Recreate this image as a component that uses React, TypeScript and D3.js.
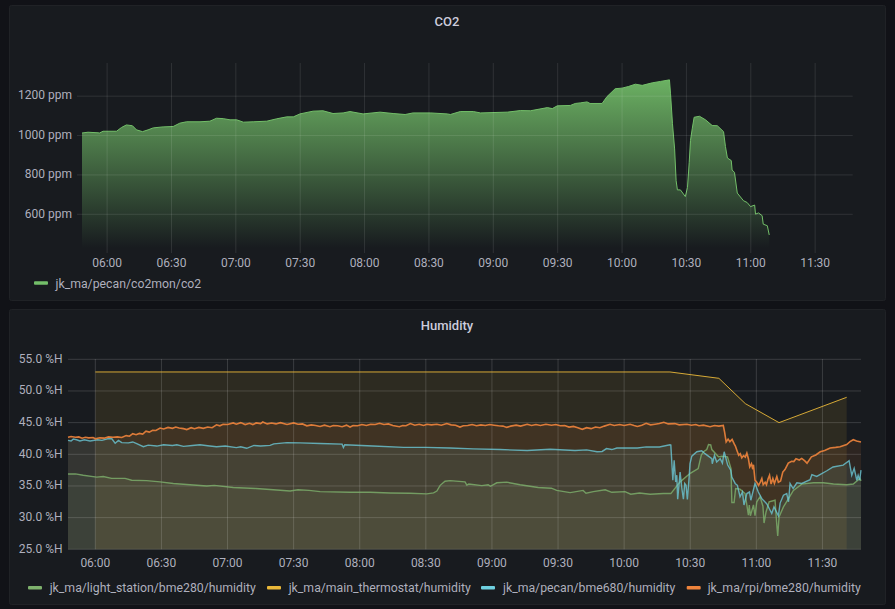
import React from "react";
import * as d3 from "d3";

// Minutes after 06:00
const xTickLabels = ["06:00","06:30","07:00","07:30","08:00","08:30","09:00","09:30","10:00","10:30","11:00","11:30"];
const xTickMinutes = [0,30,60,90,120,150,180,210,240,270,300,330];

const co2Ticks = [600,800,1000,1200];
const co2Samples: [number, number][] = [
[-11.7,1013],[-8.9,1017],[-4.2,1014],[-3.5,1013],[-1.9,1022],[4.4,1022],[6.7,1041],[9,1054],[11.8,1050],[13.7,1029],[16.5,1020],[19.1,1029],[21.5,1039],[26.1,1044],[30.8,1046],[33.9,1063],[37,1070],[43.3,1070],[47.9,1073],[51,1088],[54.1,1086],[57.3,1080],[60.4,1080],[63.5,1068],[68.1,1070],[74.4,1073],[79,1085],[83.7,1095],[86.8,1095],[89.9,1110],[96,1124],[100.6,1126],[105.3,1112],[110,1115],[113.2,1122],[119.3,1110],[127.2,1119],[133.3,1112],[138.9,1107],[142.6,1115],[150.6,1115],[158.5,1110],[160,1107],[164.6,1122],[170.7,1122],[174,1115],[186.5,1119],[192.6,1127],[197.3,1126],[205.2,1142],[207.5,1137],[209.8,1151],[215.9,1153],[218.2,1163],[220.5,1166],[223.7,1171],[225.1,1163],[230.7,1163],[233,1198],[236.8,1238],[240,1241],[242.9,1249],[246.2,1261],[249.4,1255],[254.1,1268],[257.9,1275],[262.1,1283],[262.6,1212],[263.5,1060],[264.5,932],[265.2,771],[265.8,724],[267.2,724],[269.5,690],[270.5,737],[271.3,864],[271.9,975],[272.7,1034],[273.6,1093],[276.1,1098],[278.9,1080],[282,1051],[284.4,1050],[287.3,1020],[288.2,944],[289.1,886],[290.9,873],[291.3,825],[292.4,813],[293.7,708],[296.6,669],[298.3,660],[299.9,639],[301.8,647],[302.2,601],[303.6,607],[305.3,593],[305.8,550],[307.7,542],[308.6,495]];

const humidityTicks = [25,30,35,40,45,50,55];

const greenSamples: [number, number][] = [
[-12.4,36.9],[-9,36.9],[-5.5,36.7],[0.6,36.4],[3.6,36.5],[7.4,36.2],[13.5,36.2],[16.5,35.9],[23.3,35.85],[29.4,35.65],[35.4,35.4],[43,35.2],[50.6,35],[54,35.1],[62.6,34.75],[73,34.6],[80.8,34.4],[88.4,34.2],[92,34.4],[97,34.3],[102,34.1],[115.6,34],[124.7,34],[133.8,33.9],[142.8,33.85],[150.4,33.75],[153.5,33.9],[155,34.2],[156.5,35.1],[158.7,35.75],[161,35.85],[167.8,35.65],[168.6,35.15],[169.5,35.3],[175.4,35.05],[178.3,35.2],[179.3,34.95],[182.2,35.5],[186.7,35.6],[192.8,35.2],[201,34.75],[207,34.65],[209.4,34.3],[215.5,33.95],[221.4,34.3],[222.7,33.85],[226,34.1],[231.4,34.4],[234.4,34],[240.4,34.1],[243,33.7],[247,33.9],[251.8,33.7],[257.8,33.8],[261.2,33.8],[265.4,35.65],[270,37],[273.6,37.75],[275,39.85],[276,40.4],[277.5,40.75],[278.3,41.55],[279.3,41.5],[279.8,40.75],[282.8,39.6],[284.3,39.7],[286.9,39.6],[288.5,37.75],[288.9,32.4],[289.9,32.4],[290.6,34.6],[292.6,34.5],[294.9,33.8],[296.4,30.4],[296.8,32],[297.3,30.3],[298.7,32],[299.4,30.3],[300.2,32.5],[301.7,33.3],[303,31.8],[303.5,29.15],[304.4,30.9],[305.8,32.5],[308.5,32.75],[309.3,28.8],[309.7,27.1],[310.3,30.1],[312.3,31.7],[314.6,33],[316.8,34.3],[320.6,35.3],[325.9,35.5],[330.4,35.5],[335,35.3],[341,35.2],[344,35.3],[347,36.2],[347.5,35.8]];

const yellowSamples: [number, number][] = [[0,53],[260.8,53],[283,52],[295,48],[310.3,45],[341,49]];

const cyanSamples: [number, number][] = [
[-12.4,42.2],[-11,42.1],[-10,42.4],[-8.5,42.3],[-7,42.1],[-5,42.3],[-2.4,42.1],[1,42.3],[3,42.2],[6,42.5],[7.5,42.45],[9,41.75],[10.5,42.2],[12,41.85],[15,41.8],[17,41.95],[18.8,41.7],[21.8,41.2],[24,41.45],[27.9,41.3],[31,41.5],[35,41.4],[37,41.5],[40,41.25],[44,41.4],[47.5,41.5],[51,41.35],[55,41.2],[59,41.3],[64,41.05],[66,41.2],[68.7,40.95],[72,41.4],[75,41.3],[79.3,41.4],[81,41.65],[87,41.85],[93,41.8],[102,41.7],[112,41.6],[112.6,41.07],[113.2,41.5],[126,41.3],[140,41.1],[150,41.1],[161,41],[171.6,40.85],[183.7,40.75],[196,40.6],[206.4,40.8],[217.7,40.6],[223,40.7],[227.7,40.4],[230,40.45],[232,40.9],[234.4,40.75],[236.7,41],[242.7,41],[246,41],[250,41.17],[256,41.15],[260.8,41.5],[261.2,41.45],[262.1,35.9],[262.7,39.07],[263.4,35.64],[263.9,36.7],[264.3,32.9],[265.4,37.2],[266.2,34.6],[266.9,32.9],[267.5,35.4],[268.1,35.1],[268.7,32.86],[269.5,36.4],[269.9,38.55],[270.7,39.7],[273,40.4],[275.2,40.55],[276.7,40.1],[279.8,39.3],[280,38.5],[281,39.85],[282,38.8],[283.6,39.3],[284.6,38.6],[285.4,40.4],[286.1,39.5],[287,38.3],[288.4,37.5],[288.9,36.4],[290.4,35.4],[291.4,35.1],[292.6,33.3],[293.7,34.05],[294.4,32],[295.7,33.8],[296.9,34.05],[297.5,32.75],[299.4,35.4],[300.9,34.05],[302.5,33],[304.7,32.2],[305.9,31.4],[307,30.65],[308,31.7],[310,30.3],[310.8,32.3],[312.3,33.55],[313.8,33.8],[314.6,32.5],[315.3,35.4],[316.7,34.6],[318.4,35.5],[320.6,35.4],[324.4,36],[325.2,36.8],[327.4,36.5],[332,37.4],[334.8,38],[339.4,38.3],[342.1,39],[343.3,36.7],[344.4,37.8],[345.6,35.9],[346.2,36.7],[346.9,35.9],[347.5,37.5]];

const orangeSamples: [number, number][] = [
[-12.4,42.7],[-11,42.8],[-9,42.7],[-7.5,42.75],[-6,42.55],[-4.5,42.7],[-3,42.6],[-1,42.65],[0,42.45],[2,42.6],[4,42.55],[6,42.75],[8,42.7],[10,42.75],[12,42.65],[14,42.95],[15.5,42.85],[17,43.25],[18.5,43.1],[20,43.3],[21.5,43.2],[23,43.65],[24.5,43.5],[26,43.8],[27.5,43.75],[29.4,44.15],[31,44],[33,44.25],[35,44.1],[36.5,44.3],[38,44.15],[40,44.05],[41.5,43.9],[43.5,44.2],[45,44.05],[47,44.25],[49,44.1],[51,44.3],[53,44.2],[55,44.65],[56.5,44.5],[58,44.75],[60,44.7],[62.6,44.95],[64,44.75],[66,45],[68,44.7],[70,44.9],[71.5,44.7],[73,44.95],[75,44.85],[76,45.1],[78,44.8],[80,44.95],[82,44.8],[84,45],[87,44.7],[90,44.95],[92,44.75],[94,44.8],[96,44.5],[98,44.65],[100,44.55],[102,44.4],[104,44.6],[106.5,44.35],[108,44.55],[110,44.5],[112,44.35],[114,44.6],[115.6,44.3],[117,44.55],[119,44.5],[121,44.7],[123,44.55],[125,44.75],[127,44.7],[129,44.9],[131,44.7],[133,44.8],[135,44.55],[138,44.35],[139.5,44.55],[141,44.5],[143,44.85],[145,44.6],[147,44.75],[149,44.55],[150.5,44.75],[152.5,44.65],[155,44.75],[157,44.6],[159.5,44.85],[161.5,44.65],[163.5,44.6],[165.5,44.3],[167,44.5],[169,44.55],[171,44.7],[173,44.5],[175,44.65],[177,44.55],[179,44.7],[181,44.6],[183,44.5],[185,44.45],[186.7,44.25],[188.5,44.45],[191,44.6],[193,44.45],[196,44.75],[198,44.55],[200,44.7],[202,44.55],[204.5,44.75],[207,44.6],[209,44.7],[211,44.5],[213,44.55],[215,44.3],[217,44.4],[219,44.2],[221,43.95],[223,44.2],[225,44.05],[227,44.3],[229,44.2],[231,44.45],[233.6,44.75],[235.5,44.55],[238,44.7],[240,44.55],[242.7,44.75],[244.5,44.55],[246,44.4],[248,44.6],[250,44.9],[252,44.65],[254,44.75],[256,44.85],[258,45.05],[260,44.8],[263,44.85],[265,44.65],[268.5,44.75],[270.5,44.6],[272.5,44.7],[274,44.5],[276,44.6],[279,44.35],[281,44.55],[283,44.45],[285,44.55],[285.6,43.5],[286.3,41.95],[287.2,42.4],[288,42],[289,42.35],[290,41.6],[290.5,41.3],[291.2,40.6],[292,39.85],[292.7,40.1],[293.4,39.45],[294.2,39.8],[295,39.55],[295.7,40.2],[296.4,39.3],[297,38],[297.8,38.5],[298.2,37.9],[298.7,38.35],[299.4,35.9],[300.2,35.6],[301,35.1],[301.8,35.6],[302.5,36.2],[303.1,35.2],[304,35.6],[304.6,35.2],[305.3,36.1],[306,36.7],[306.7,35.3],[307.5,36.2],[308.2,35.4],[309.3,36.5],[310,35.6],[311,35.8],[312,37.2],[313,37.6],[314.5,38.6],[316,38.9],[317,38.85],[318,39.3],[319.5,39.1],[320.6,39.35],[322,38.95],[323,38.6],[325,39.6],[327,39.9],[329,40.4],[331,40.6],[333.5,41],[336,41.1],[338,41.2],[341,41.55],[342.5,42],[344,42.3],[345.5,42.1],[347.5,41.95]];

const co2Name = "jk_ma/pecan/co2mon/co2";
const humidityNames = ["jk_ma/light_station/bme280/humidity","jk_ma/main_thermostat/humidity","jk_ma/pecan/bme680/humidity","jk_ma/rpi/bme280/humidity"];
const humidityColors = ["#7EB26D","#EAB839","#6ED0E0","#EF843C"];
const humidityLineWidths = [1.4, 1, 1.4, 1.6];
const humidityLineOpacities = [0.8, 0.9, 0.75, 0.9];
const co2Color = "#73BF69";

const FONT = "Roboto, sans-serif";

export default function App() {
  const co2X = d3.scaleLinear().domain([-11.7, 347.5]).range([82, 852.7]);
  const co2Y = d3.scaleLinear().domain([600, 1200]).range([214.3, 96.2]);
  const hX = d3.scaleLinear().domain([-12.4, 347.5]).range([68, 861]);
  const hY = d3.scaleLinear().domain([25, 55]).range([549.3, 359.3]);

  const co2Line = d3.line<[number, number]>().x(d => co2X(d[0])).y(d => co2Y(d[1]));
  const co2Area = d3.area<[number, number]>().x(d => co2X(d[0])).y0(248).y1(d => co2Y(d[1]));

  const series = [greenSamples, yellowSamples, cyanSamples, orangeSamples];
  const hLine = d3.line<[number, number]>().x(d => hX(d[0])).y(d => hY(d[1]));
  const hArea = d3.area<[number, number]>().x(d => hX(d[0])).y0(549.3).y1(d => hY(d[1]));

  const tickColor = "rgba(204,204,220,0.85)";
  const legendX = [[28, 49.7], [267, 288.7], [481, 503], [686.7, 707.7]];

  return (
    <svg width={895} height={609} viewBox="0 0 895 609"
      style={{ position: "fixed", left: 0, top: 0, display: "block" }} fontFamily={FONT}>
      <defs>
        <linearGradient id="co2Grad" gradientUnits="userSpaceOnUse" x1="0" x2="0" y1="79" y2="248">
          <stop offset="0" stopColor={co2Color} stopOpacity={0.92} />
          <stop offset="1" stopColor={co2Color} stopOpacity={0} />
        </linearGradient>
      </defs>
      <rect width={895} height={609} fill="#111217" />
      <rect x={9.5} y={5.5} width={876} height={295} rx={2} fill="#181B1F" stroke="#202226" />
      <rect x={9.5} y={309.5} width={876} height={295} rx={2} fill="#181B1F" stroke="#202226" />

      {/* CO2 panel */}
      <text x={447} y={26} textAnchor="middle" fontSize={13} fontWeight={500} fill="#CCCCDC">CO2</text>
      <path d={co2Area(co2Samples) ?? ""} fill="url(#co2Grad)" />
      <path d={co2Line(co2Samples) ?? ""} fill="none" stroke={co2Color} strokeWidth={1} />
      {co2Ticks.map(t => (
        <g key={t}>
          <line x1={77} x2={852.7} y1={co2Y(t)} y2={co2Y(t)} stroke="rgba(255,255,255,0.1)" />
          <text x={72} y={co2Y(t) + 3.2} textAnchor="end" fontSize={12} fill={tickColor}>{t} ppm</text>
        </g>
      ))}
      {xTickMinutes.map((m, i) => (
        <g key={m}>
          <line x1={co2X(m)} x2={co2X(m)} y1={63} y2={253} stroke="rgba(255,255,255,0.1)" />
          <text x={co2X(m)} y={266.5} textAnchor="middle" fontSize={12} fill={tickColor}>{xTickLabels[i]}</text>
        </g>
      ))}
      <rect x={34} y={281.3} width={14} height={3.4} rx={1} fill={co2Color} />
      <text x={55.5} y={287.5} fontSize={12.27} fill={tickColor}>{co2Name}</text>

      {/* Humidity panel */}
      <text x={447} y={330} textAnchor="middle" fontSize={13} fontWeight={500} fill="#CCCCDC">Humidity</text>
      {series.map((s, i) => (
        <path key={i} d={hArea(s) ?? ""} fill={humidityColors[i]} fillOpacity={0.1} />
      ))}
      {humidityTicks.map(t => (
        <g key={t}>
          <line x1={68} x2={861} y1={hY(t)} y2={hY(t)} stroke="rgba(255,255,255,0.15)" />
          <text x={62.5} y={hY(t) + 3.2} textAnchor="end" fontSize={12} fill={tickColor}>{t.toFixed(1)} %H</text>
        </g>
      ))}
      {xTickMinutes.map((m, i) => (
        <g key={m}>
          <line x1={hX(m)} x2={hX(m)} y1={359} y2={549.3} stroke="rgba(255,255,255,0.15)" />
          <text x={hX(m)} y={566.5} textAnchor="middle" fontSize={12} fill={tickColor}>{xTickLabels[i]}</text>
        </g>
      ))}
      {series.map((s, i) => (
        <path key={i} d={hLine(s) ?? ""} fill="none" stroke={humidityColors[i]} strokeOpacity={humidityLineOpacities[i]} strokeWidth={humidityLineWidths[i]} />
      ))}
      {humidityNames.map((n, i) => (
        <g key={n}>
          <rect x={legendX[i][0]} y={586} width={14} height={3.4} rx={1} fill={humidityColors[i]} />
          <text x={legendX[i][1]} y={591.5} fontSize={12.27} fill={tickColor}>{n}</text>
        </g>
      ))}
    </svg>
  );
}
